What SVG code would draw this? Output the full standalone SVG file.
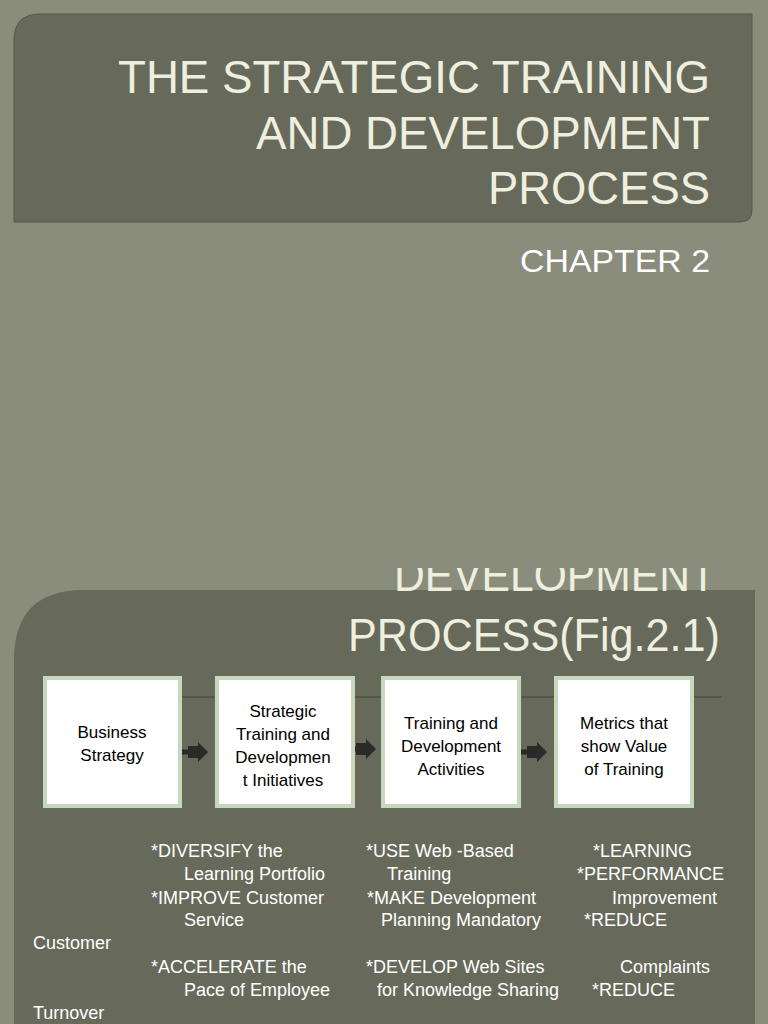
<svg xmlns="http://www.w3.org/2000/svg" width="768" height="1024" viewBox="0 0 768 1024">
<defs>
<style>
.t{font-family:"Liberation Sans",Arial,sans-serif;fill:#efefdf}
.bx{fill:#fff;stroke:#c5d8bd;stroke-width:4}
.bt{font-family:"Liberation Sans",Arial,sans-serif;font-size:17px;fill:#000;text-anchor:middle}
.w{font-family:"Liberation Sans",Arial,sans-serif;font-size:18px;fill:#fff}
</style>
<clipPath id="c"><rect x="0" y="568" width="768" height="456"/></clipPath>
<marker id="a" viewBox="0 0 10 10" refX="9" refY="5" markerWidth="4" markerHeight="4" orient="auto"><path d="M0,2H5V0L10,5L5,10V8H0Z" fill="#2a2a2a"/></marker>
</defs>
<rect width="768" height="1024" fill="#8a8d7b"/>
<path d="M14,40Q14,14 40,14H752V210Q752,222 740,222H14Z" fill="#676a5b" stroke="#555848"/>
<g class="t" text-anchor="end" style="font-size:47px">
<text x="710" y="93" textLength="592" lengthAdjust="spacingAndGlyphs">THE STRATEGIC TRAINING</text>
<text x="710" y="149" textLength="454" lengthAdjust="spacingAndGlyphs">AND DEVELOPMENT</text>
<text x="710" y="204" textLength="222" lengthAdjust="spacingAndGlyphs">PROCESS</text>
</g>
<text x="710" y="272" text-anchor="end" style="font-family:'Liberation Sans',Arial,sans-serif;font-size:31px;fill:#fff" textLength="190" lengthAdjust="spacingAndGlyphs">CHAPTER 2</text>
<path d="M14,660Q14,590 84,590H755V1024H14Z" fill="#676a5b"/>
<g class="t" text-anchor="end" style="font-size:46px" clip-path="url(#c)">
<text x="716" y="591" textLength="322" lengthAdjust="spacingAndGlyphs">DEVELOPMENT</text>
</g>
<text class="t" x="720" y="651" text-anchor="end" style="font-size:46px" textLength="372" lengthAdjust="spacingAndGlyphs">PROCESS(Fig.2.1)</text>
<g id="connectors">
<line x1="180" y1="697" x2="722" y2="697" stroke="#4d5c45" stroke-width="2"/>
<line x1="181" y1="752" x2="206" y2="752" stroke="#2a2a2a" stroke-width="5" marker-end="url(#a)"/>
<line x1="354" y1="749" x2="374" y2="749" stroke="#2a2a2a" stroke-width="5" marker-end="url(#a)"/>
<line x1="520" y1="752" x2="545" y2="752" stroke="#2a2a2a" stroke-width="5" marker-end="url(#a)"/>
</g>
<g id="n1"><rect class="bx" x="45" y="678" width="135" height="128"/><text class="bt" x="112" y="738">Business</text><text class="bt" x="112" y="761">Strategy</text></g>
<g id="n2"><rect class="bx" x="217" y="678" width="136" height="128"/><text class="bt" x="283" y="717">Strategic</text><text class="bt" x="283" y="740">Training and</text><text class="bt" x="283" y="763">Developmen</text><text class="bt" x="283" y="786">t Initiatives</text></g>
<g id="n3"><rect class="bx" x="383" y="678" width="136" height="128"/><text class="bt" x="451" y="729">Training and</text><text class="bt" x="451" y="752">Development</text><text class="bt" x="451" y="775">Activities</text></g>
<g id="n4"><rect class="bx" x="556" y="678" width="136" height="128"/><text class="bt" x="624" y="729">Metrics that</text><text class="bt" x="624" y="752">show Value</text><text class="bt" x="624" y="775">of Training</text></g>
<g class="w">
<text x="151" y="857">*DIVERSIFY the</text>
<text x="184" y="880">Learning Portfolio</text>
<text x="151" y="904">*IMPROVE Customer</text>
<text x="184" y="926">Service</text>
<text x="33" y="949">Customer</text>
<text x="151" y="973">*ACCELERATE the</text>
<text x="184" y="996">Pace of Employee</text>
<text x="33" y="1019">Turnover</text>
<text x="366" y="857">*USE Web -Based</text>
<text x="387" y="880">Training</text>
<text x="367" y="904">*MAKE Development</text>
<text x="381" y="926">Planning Mandatory</text>
<text x="366" y="973">*DEVELOP Web Sites</text>
<text x="377" y="996">for Knowledge Sharing</text>
<text x="593" y="857">*LEARNING</text>
<text x="577" y="880">*PERFORMANCE</text>
<text x="612" y="904">Improvement</text>
<text x="584" y="926">*REDUCE</text>
<text x="620" y="973">Complaints</text>
<text x="592" y="996">*REDUCE</text>
</g>
</svg>
